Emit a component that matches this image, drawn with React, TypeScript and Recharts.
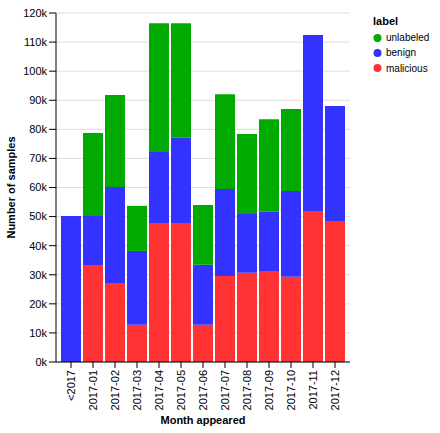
import { BarChart, Bar, XAxis, YAxis, CartesianGrid } from 'recharts';

const months = [
  '<2017', '2017-01', '2017-02', '2017-03', '2017-04', '2017-05', '2017-06',
  '2017-07', '2017-08', '2017-09', '2017-10', '2017-11', '2017-12'
];
const malicious = [0, 33100, 27200, 12800, 47500, 47500, 12800, 29600, 30700, 31000, 29300, 51900, 48500];
const benign = [50200, 17100, 33000, 25400, 24700, 29600, 20600, 29900, 20200, 20700, 29500, 60500, 39500];
const unlabeled = [0, 28500, 31600, 15500, 44300, 39400, 20600, 32600, 27500, 31800, 28200, 0, 0];
const yTicks = [0, 10000, 20000, 30000, 40000, 50000, 60000, 70000, 80000, 90000, 100000, 110000, 120000];

// legend order is top of stack first
const series = [
  { key: 'unlabeled', color: '#00aa00' },
  { key: 'benign', color: '#3333ff' },
  { key: 'malicious', color: '#ff3333' }
];

const font = '"Liberation Sans", Arial, Helvetica, sans-serif';

const chartData = months.map((month, i) => ({
  month,
  malicious: malicious[i],
  benign: benign[i],
  unlabeled: unlabeled[i]
}));

function MonthTick({ x, y, payload }: any) {
  return (
    <g transform={`translate(${x},${y})`}>
      <text
        transform="rotate(-90)"
        x={0}
        y={0}
        dy="0.35em"
        textAnchor="end"
        fontSize={11}
        fontFamily={font}
        fill="#000"
      >
        {payload.value}
      </text>
    </g>
  );
}

function LabelLegend() {
  return (
    <div style={{ position: 'absolute', left: 373, top: 15, fontFamily: font }}>
      <div style={{ fontSize: 11, fontWeight: 'bold', lineHeight: '13px', marginBottom: 2 }}>label</div>
      {series.map(s => (
        <div key={s.key} style={{ display: 'flex', alignItems: 'center', height: 15.3 }}>
          <svg width={10} height={10} style={{ marginRight: 3 }}>
            <circle cx={4.5} cy={5} r={4} fill={s.color} />
          </svg>
          <span style={{ fontSize: 10, color: '#000' }}>{s.key}</span>
        </div>
      ))}
    </div>
  );
}

export default function App() {
  return (
    <div style={{ position: 'absolute', left: 0, top: 0, width: 440, height: 433, background: '#fff' }}>
      <BarChart
        width={440}
        height={433}
        data={chartData}
        margin={{ top: 13, right: 90, left: 0, bottom: 11 }}
        barCategoryGap={1}
      >
        <CartesianGrid vertical={false} stroke="#dddddd" />
        <XAxis
          dataKey="month"
          interval={0}
          height={60}
          padding={{ left: 4, right: 4 }}
          tick={<MonthTick />}
          tickSize={6}
          tickMargin={2}
          axisLine={{ stroke: '#000' }}
          tickLine={{ stroke: '#000' }}
          label={({ viewBox }: any) => (
            <text
              x={viewBox.x + viewBox.width / 2}
              y={viewBox.y + 62}
              textAnchor="middle"
              fontSize={11}
              fontWeight="bold"
              fontFamily={font}
              fill="#000"
            >
              Month appeared
            </text>
          )}
        />
        <YAxis
          width={56}
          domain={[0, 120000]}
          ticks={yTicks}
          interval={0}
          tickFormatter={(v: number) => `${v / 1000}k`}
          tick={{ fontSize: 11, fontFamily: font, fill: '#000' }}
          tickSize={7}
          tickMargin={2}
          axisLine={{ stroke: '#000' }}
          tickLine={{ stroke: '#000' }}
          label={({ viewBox }: any) => (
            <text
              transform={`translate(${viewBox.x + 15},${viewBox.y + viewBox.height / 2}) rotate(-90)`}
              textAnchor="middle"
              fontSize={11}
              fontWeight="bold"
              fontFamily={font}
              fill="#000"
            >
              Number of samples
            </text>
          )}
        />
        <Bar dataKey="malicious" stackId="a" fill="#ff3333" isAnimationActive={false} />
        <Bar dataKey="benign" stackId="a" fill="#3333ff" isAnimationActive={false} />
        <Bar dataKey="unlabeled" stackId="a" fill="#00aa00" isAnimationActive={false} />
      </BarChart>
      <LabelLegend />
    </div>
  );
}
